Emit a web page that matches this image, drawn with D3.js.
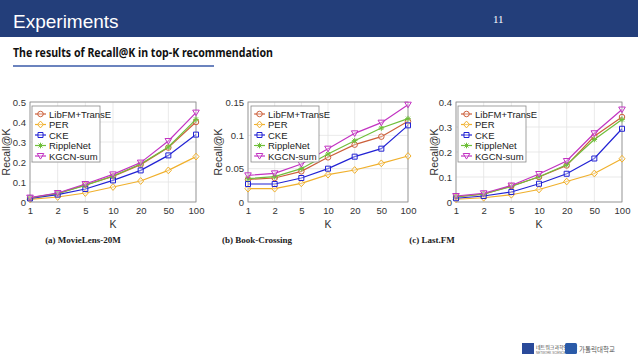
<!DOCTYPE html>
<html><head><meta charset="utf-8">
<script src="https://cdn.jsdelivr.net/npm/d3@7"></script>
<style>body{margin:0;background:#fff;}svg{display:block;}</style>
</head><body>
<svg id="c" width="638" height="359"></svg>
<script>
// ---- data ----
const kLabels = ["1","2","5","10","20","50","100"];
const seriesNames = ["LibFM+TransE","PER","CKE","RippleNet","KGCN-sum"];
const seriesColors = ["#cc5f3a","#f0b02c","#2222d4","#6fbf3a","#c233c2"];
const seriesMarkers = ["circle","diamond","square","asterisk","triangle"];
// rows follow seriesNames order
const movielensValues = [
  [0.020,0.042,0.085,0.128,0.187,0.272,0.400],
  [0.013,0.025,0.045,0.075,0.105,0.158,0.227],
  [0.018,0.037,0.065,0.108,0.158,0.233,0.337],
  [0.021,0.043,0.083,0.130,0.190,0.275,0.413],
  [0.022,0.045,0.090,0.138,0.197,0.305,0.447]
];
const bookValues = [
  [0.034,0.036,0.046,0.067,0.086,0.098,0.121],
  [0.020,0.020,0.028,0.041,0.048,0.058,0.069],
  [0.027,0.027,0.036,0.050,0.068,0.080,0.115],
  [0.035,0.038,0.050,0.072,0.092,0.111,0.125],
  [0.040,0.043,0.057,0.080,0.103,0.119,0.146]
];
const lastfmValues = [
  [0.020,0.031,0.064,0.100,0.146,0.263,0.340],
  [0.011,0.017,0.029,0.050,0.082,0.114,0.173],
  [0.015,0.024,0.040,0.073,0.113,0.174,0.293],
  [0.021,0.032,0.062,0.101,0.149,0.250,0.330],
  [0.024,0.035,0.066,0.112,0.164,0.275,0.370]
];
const movielensTicks = [0,0.1,0.2,0.3,0.4,0.5];
const bookTicks = [0,0.05,0.1,0.15];
const lastfmTicks = [0,0.1,0.2,0.3,0.4];
const captions = ["(a) MovieLens-20M","(b) Book-Crossing","(c) Last.FM"];

const panels = [
  {values: movielensValues, ticks: movielensTicks, x0: 30, x1: 196, lx: 32, cap: captions[0], capX: 83, ylabX: 10},
  {values: bookValues, ticks: bookTicks, x0: 248, x1: 408, lx: 251, cap: captions[1], capX: 257, ylabX: 222},
  {values: lastfmValues, ticks: lastfmTicks, x0: 456, x1: 622, lx: 458, cap: captions[2], capX: 432, ylabX: 438}
];

const svg = d3.select("#c");

// ---- header ----
svg.append("rect").attr("x",0).attr("y",0).attr("width",638).attr("height",37).attr("fill","#233e7a");
svg.append("text").attr("x",13).attr("y",28).attr("fill","#fff")
  .attr("font-family","Liberation Sans, Arial, sans-serif").attr("font-size",19).text("Experiments");
svg.append("text").attr("x",493).attr("y",23).attr("fill","#fff")
  .attr("font-family","Liberation Serif, serif").attr("font-size",11).text("11");
svg.append("text").attr("x",13).attr("y",57).attr("fill","#111")
  .attr("font-family","Noto Sans, sans-serif").attr("font-weight","bold").attr("font-size",13)
  .attr("textLength",260).attr("lengthAdjust","spacingAndGlyphs")
  .text("The results of Recall@K in top-K recommendation");
svg.append("line").attr("x1",13).attr("x2",214).attr("y1",66).attr("y2",66)
  .attr("stroke","#3a5aa8").attr("stroke-width",1.5);

function markerPath(type){
  switch(type){
    case "circle": return d3.symbol(d3.symbolCircle, 24)();
    case "diamond": return "M0,-3.4L3,0L0,3.4L-3,0Z";
    case "square": return "M-2.5,-2.5H2.5V2.5H-2.5Z";
    case "asterisk": return "M-2.8,0H2.8M0,-2.8V2.8M-2,-2L2,2M-2,2L2,-2";
    case "triangle": return "M-3.3,-2.5L3.3,-2.5L0,3.1Z";
  }
}

const yTop = 102, yBot = 202;
panels.forEach(p => {
  const g = svg.append("g");
  const x = d3.scalePoint().domain(kLabels).range([p.x0, p.x1]);
  const y = d3.scaleLinear().domain([0, d3.max(p.ticks)]).range([yBot, yTop]);
  // grid
  g.append("g").selectAll("line.h").data(p.ticks).join("line")
    .attr("x1",p.x0).attr("x2",p.x1).attr("y1",d=>y(d)).attr("y2",d=>y(d))
    .attr("stroke","#e3e3e3").attr("stroke-width",0.8);
  g.append("g").selectAll("line.v").data(kLabels).join("line")
    .attr("x1",d=>x(d)).attr("x2",d=>x(d)).attr("y1",yTop).attr("y2",yBot)
    .attr("stroke","#e3e3e3").attr("stroke-width",0.8);
  // axes
  const ax = g.append("g").attr("transform",`translate(0,${yBot})`)
    .call(d3.axisBottom(x).tickSize(0).tickPadding(5));
  const ay = g.append("g").attr("transform",`translate(${p.x0},0)`)
    .call(d3.axisLeft(y).tickValues(p.ticks).tickSize(0).tickPadding(4).tickFormat(d=>d===0?"0":String(d)));
  [ax, ay].forEach(a => {
    a.select(".domain").remove();
    a.selectAll("text").attr("font-family","Liberation Sans, Arial, sans-serif")
      .attr("font-size",9.5).attr("fill","#333");
  });
  // box
  g.append("rect").attr("x",p.x0).attr("y",yTop).attr("width",p.x1-p.x0).attr("height",yBot-yTop)
    .attr("fill","none").attr("stroke","#8a8a8a").attr("stroke-width",0.8);
  // labels
  g.append("text").attr("x",(p.x0+p.x1)/2).attr("y",228).attr("text-anchor","middle")
    .attr("font-family","Liberation Sans, Arial, sans-serif").attr("font-size",10.5).attr("fill","#333").text("K");
  g.append("text").attr("transform",`translate(${p.ylabX},152) rotate(-90)`).attr("text-anchor","middle")
    .attr("font-family","Liberation Sans, Arial, sans-serif").attr("font-size",10.5).attr("fill","#333").text("Recall@K");
  g.append("text").attr("x",p.capX).attr("y",243).attr("text-anchor","middle")
    .attr("font-family","Liberation Serif, serif").attr("font-weight","bold").attr("font-size",9).attr("fill","#222").text(p.cap);
  // lines
  const line = d3.line().x((d,i)=>x(kLabels[i])).y(d=>y(d));
  p.values.forEach((vals, si) => {
    g.append("path").datum(vals).attr("d",line).attr("fill","none")
      .attr("stroke",seriesColors[si]).attr("stroke-width",1.2);
    g.append("g").selectAll("path").data(vals).join("path")
      .attr("transform",(d,i)=>`translate(${x(kLabels[i])},${y(d)})`)
      .attr("d",markerPath(seriesMarkers[si]))
      .attr("fill", seriesMarkers[si]==="asterisk" ? "none" : "rgba(255,255,255,0.35)")
      .attr("stroke",seriesColors[si]).attr("stroke-width",1);
  });
  // legend
  const lg = g.append("g");
  lg.append("rect").attr("x",p.lx).attr("y",106).attr("width",68).attr("height",56)
    .attr("fill","#fff").attr("stroke","#8a8a8a").attr("stroke-width",0.8);
  seriesNames.forEach((n, si) => {
    const yy = 114 + si*10.5;
    lg.append("line").attr("x1",p.lx+3).attr("x2",p.lx+14).attr("y1",yy).attr("y2",yy)
      .attr("stroke",seriesColors[si]).attr("stroke-width",1.2);
    lg.append("path").attr("transform",`translate(${p.lx+8.5},${yy})`).attr("d",markerPath(seriesMarkers[si]))
      .attr("fill", seriesMarkers[si]==="asterisk" ? "none" : "rgba(255,255,255,0.35)")
      .attr("stroke",seriesColors[si]).attr("stroke-width",1);
    lg.append("text").attr("x",p.lx+17).attr("y",yy+3.5)
      .attr("font-family","Liberation Sans, Arial, sans-serif").attr("font-size",9.5).attr("fill","#222").text(n);
  });
});

// ---- footer logos (approximation) ----
const logo = svg.append("g");
logo.append("rect").attr("x",522).attr("y",343).attr("width",12).attr("height",11).attr("fill","#2a4a9a");
logo.append("text").attr("x",536).attr("y",349).attr("font-family","Noto Sans CJK KR, sans-serif")
  .attr("font-size",5).attr("fill","#333").text("네트워크과학연구실");
logo.append("text").attr("x",536).attr("y",354).attr("font-family","Liberation Sans, sans-serif")
  .attr("font-size",3).attr("fill","#666").text("NETWORK SCIENCE LAB");
logo.append("rect").attr("x",565).attr("y",343).attr("width",12).attr("height",11).attr("rx",1.5).attr("fill","#2a5aa8");
logo.append("text").attr("x",579).attr("y",352).attr("font-family","Noto Sans CJK KR, sans-serif")
  .attr("font-size",6.5).attr("fill","#555").text("가톨릭대학교");
</script>
</body></html>
